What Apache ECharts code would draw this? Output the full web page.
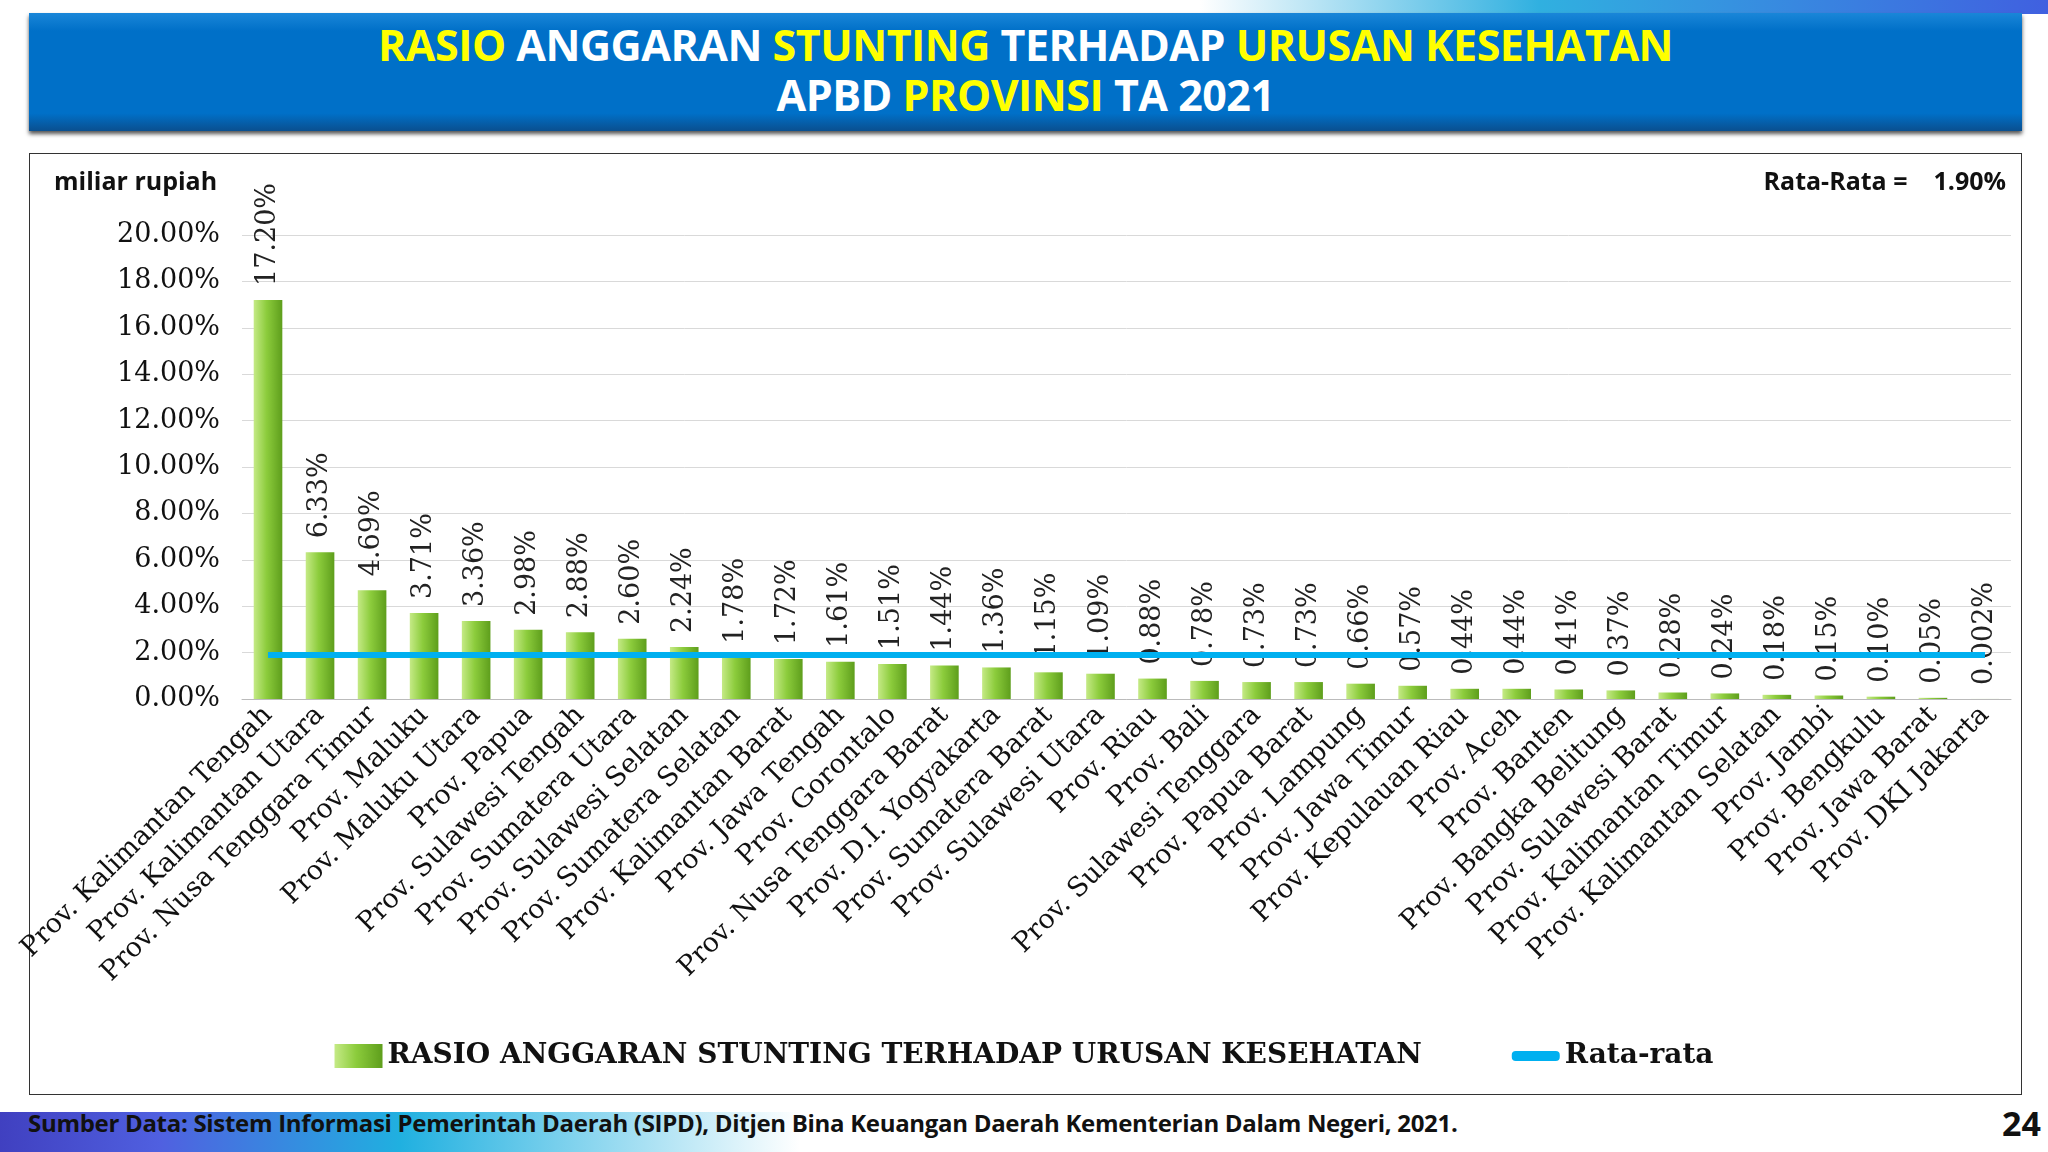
<!DOCTYPE html>
<html><head><meta charset="utf-8">
<script src="https://cdn.jsdelivr.net/npm/echarts@6/dist/echarts.min.js"></script>
<style>
body{margin:0;width:2048px;height:1152px;background:#fff;position:relative;overflow:hidden;font-family:"Open Sans",sans-serif}
#hdr{position:absolute;left:29px;top:13px;width:1993px;height:118px;background:linear-gradient(#1a86d8,#0070c8 15%,#0070c8 85%,#0a4f8f);box-shadow:0 3px 4px #555;text-align:center;color:#fff;font-weight:bold;font-size:43px;line-height:50px;padding-top:7px;box-sizing:border-box;letter-spacing:-0.5px}
#hdr .y{color:#ffff00}
#topbar{position:absolute;left:1200px;top:0;width:848px;height:14px;background:linear-gradient(90deg,#fff,#30b0e0 40%,#4060e0)}
#box{position:absolute;left:29px;top:153px;width:1993px;height:942px;border:1.5px solid #333;box-sizing:border-box}
#chart{position:absolute;left:0;top:153px;width:2048px;height:942px}
#foot{position:absolute;left:0;top:1112px;width:800px;height:40px;background:linear-gradient(90deg,#4040c0,#5060e0 20%,#20b0e0 50%,#fff)}
#src{position:absolute;left:28px;top:1106px;font-weight:bold;font-size:24px;color:#111;letter-spacing:-0.3px}
#pg{position:absolute;left:2002px;top:1100px;font-weight:bold;font-size:34px;color:#111}
</style></head><body>
<div id="topbar"></div>
<div id="hdr"><span class="y">RASIO</span> ANGGARAN <span class="y">STUNTING</span> TERHADAP <span class="y">URUSAN KESEHATAN</span><br>APBD <span class="y">PROVINSI</span> TA 2021</div>
<div id="box"></div>
<div id="chart"></div>
<div id="foot"></div>
<div id="src">Sumber Data: Sistem Informasi Pemerintah Daerah (SIPD), Ditjen Bina Keuangan Daerah Kementerian Dalam Negeri, 2021.</div>
<div id="pg">24</div>
<script>
const categories=["Prov. Kalimantan Tengah","Prov. Kalimantan Utara","Prov. Nusa Tenggara Timur","Prov. Maluku","Prov. Maluku Utara","Prov. Papua","Prov. Sulawesi Tengah","Prov. Sumatera Utara","Prov. Sulawesi Selatan","Prov. Sumatera Selatan","Prov. Kalimantan Barat","Prov. Jawa Tengah","Prov. Gorontalo","Prov. Nusa Tenggara Barat","Prov. D.I. Yogyakarta","Prov. Sumatera Barat","Prov. Sulawesi Utara","Prov. Riau","Prov. Bali","Prov. Sulawesi Tenggara","Prov. Papua Barat","Prov. Lampung","Prov. Jawa Timur","Prov. Kepulauan Riau","Prov. Aceh","Prov. Banten","Prov. Bangka Belitung","Prov. Sulawesi Barat","Prov. Kalimantan Timur","Prov. Kalimantan Selatan","Prov. Jambi","Prov. Bengkulu","Prov. Jawa Barat","Prov. DKI Jakarta"];
const ratios=[17.20,6.33,4.69,3.71,3.36,2.98,2.88,2.60,2.24,1.78,1.72,1.61,1.51,1.44,1.36,1.15,1.09,0.88,0.78,0.73,0.73,0.66,0.57,0.44,0.44,0.41,0.37,0.28,0.24,0.18,0.15,0.10,0.05,0.002];
const labels=["17.20%","6.33%","4.69%","3.71%","3.36%","2.98%","2.88%","2.60%","2.24%","1.78%","1.72%","1.61%","1.51%","1.44%","1.36%","1.15%","1.09%","0.88%","0.78%","0.73%","0.73%","0.66%","0.57%","0.44%","0.44%","0.41%","0.37%","0.28%","0.24%","0.18%","0.15%","0.10%","0.05%","0.002%"];
const average=1.90;
const avgLine=categories.map(()=>average);
const serif='"DejaVu Serif",serif';
const ch=echarts.init(document.getElementById('chart'));
ch.setOption({
 animation:false,
 grid:{left:242,right:37,top:82,bottom:396,containLabel:false,outerBoundsMode:'none'},
 graphic:[
  {type:'text',left:54,top:17,style:{text:'miliar rupiah',font:'bold 25px "Open Sans"',fill:'#111'}},
  {type:'text',right:42,top:17,style:{text:'Rata-Rata =    1.90%',font:'bold 25px "Open Sans"',fill:'#111'}}
 ],
 legend:{bottom:20,left:'center',itemGap:90,itemWidth:48,itemHeight:24,textStyle:{fontFamily:serif,fontWeight:'bold',fontSize:28,color:'#111'},
  data:[{name:'RASIO ANGGARAN STUNTING TERHADAP URUSAN KESEHATAN',icon:'rect'},{name:'Rata-rata',icon:'path://M0,4 Q0,0 4,0 L44,0 Q48,0 48,4 L48,6 Q48,10 44,10 L4,10 Q0,10 0,6 Z'}]},
 xAxis:{type:'category',data:categories,axisTick:{show:false},axisLine:{lineStyle:{color:'#bbb'}},
  axisLabel:{rotate:45,interval:0,fontFamily:serif,fontSize:27,color:'#111',margin:12}},
 yAxis:{type:'value',min:0,max:20,interval:2,axisLine:{show:false},axisTick:{show:false},
  splitLine:{lineStyle:{color:'#d9d9d9'}},
  axisLabel:{formatter:v=>v.toFixed(2)+'%',fontFamily:serif,fontSize:27,color:'#111',margin:22}},
 series:[
  {name:'RASIO ANGGARAN STUNTING TERHADAP URUSAN KESEHATAN',type:'bar',data:ratios,barWidth:'55%',
   itemStyle:{color:new echarts.graphic.LinearGradient(0,0,1,0,[{offset:0,color:'#c5ea86'},{offset:0.45,color:'#8ccc3c'},{offset:1,color:'#5e9e1c'}])},
   label:{show:true,position:'top',rotate:90,align:'left',verticalAlign:'middle',distance:14,fontFamily:serif,fontSize:27,color:'#222',formatter:p=>labels[p.dataIndex]}},
  {name:'Rata-rata',type:'line',data:avgLine,symbol:'none',z:5,lineStyle:{color:'#00b0f0',width:6},itemStyle:{color:'#00b0f0'}}
 ]
});
</script></body></html>
